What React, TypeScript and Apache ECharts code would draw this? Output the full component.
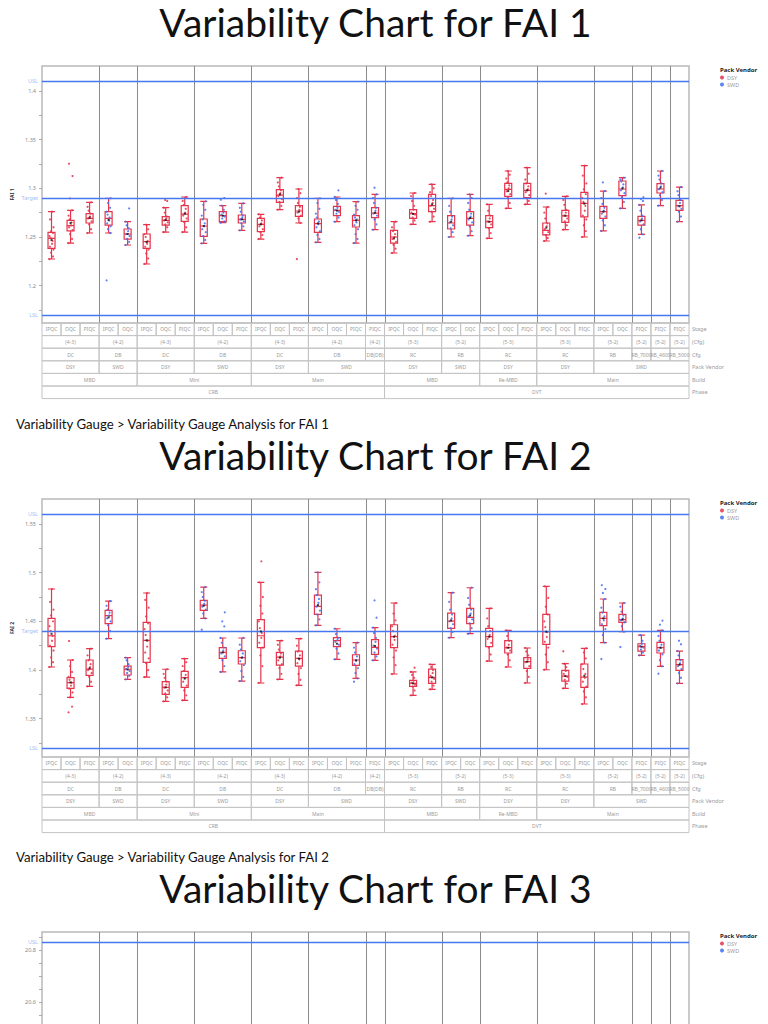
import React, { useEffect, useRef } from "react";
import * as echarts from "echarts";

// ---- category hierarchy (shared by every FAI chart) ----
const stageLabels = [
  "IPQC", "OQC", "PIQC", "IPQC", "OQC", "IPQC", "OQC", "PIQC", "IPQC", "OQC", "PIQC",
  "IPQC", "OQC", "PIQC", "IPQC", "OQC", "PIQC", "PIQC",
  "IPQC", "OQC", "PIQC", "IPQC", "OQC", "IPQC", "OQC", "PIQC", "IPQC", "OQC", "PIQC",
  "IPQC", "OQC", "PIQC", "PIQC", "PIQC",
];
const cfgCodeSpans: [string, number][] = [
  ["(4-3)", 3], ["(4-2)", 2], ["(4-3)", 3], ["(4-2)", 3], ["(4-3)", 3], ["(4-2)", 3], ["(4-2)", 1],
  ["(5-3)", 3], ["(5-2)", 2], ["(5-3)", 3], ["(5-3)", 3], ["(5-2)", 2], ["(5-2)", 1], ["(5-2)", 1], ["(5-2)", 1],
];
const cfgSpans: [string, number][] = [
  ["DC", 3], ["DB", 2], ["DC", 3], ["DB", 3], ["DC", 3], ["DB", 3], ["DB(DB)", 1],
  ["RC", 3], ["RB", 2], ["RC", 3], ["RC", 3], ["RB", 2], ["RB_7000", 1], ["RB_4600", 1], ["RB_5000", 1],
];
const vendorSpans: [string, number][] = [
  ["DSY", 3], ["SWD", 2], ["DSY", 3], ["SWD", 3], ["DSY", 3], ["SWD", 4],
  ["DSY", 3], ["SWD", 2], ["DSY", 3], ["DSY", 3], ["SWD", 5],
];
const buildSpans: [string, number][] = [
  ["MBD", 5], ["Mini", 6], ["Main", 7], ["MBD", 5], ["Re-MBD", 3], ["Main", 8],
];
const phaseSpans: [string, number][] = [["CRB", 18], ["DVT", 16]];
const rowNames = ["Stage", "(Cfg)", "Cfg", "Pack Vendor", "Build", "Phase"];
const vendorNames = ["DSY", "SWD"];
const limitNames = ["USL", "Target", "LSL"];

// ---- FAI 1 ----
const fai1Limits = [1.41, 1.29, 1.17];
const fai1Range = [1.1617, 1.4256];
const fai1MajorTicks = [1.2, 1.25, 1.3, 1.35, 1.4];
const fai1MinorTicks = [1.175, 1.225, 1.275, 1.325, 1.375];
// [low whisker, Q1, median, Q3, high whisker]
const fai1Box = [
  [1.2274, 1.2384, 1.2486, 1.2548, 1.276], [1.2438, 1.2562, 1.2616, 1.2671, 1.2774], [1.2541, 1.2644, 1.2692, 1.274, 1.2856],
  [1.2541, 1.2623, 1.2692, 1.276, 1.2897], [1.2418, 1.2479, 1.2531, 1.2582, 1.2657],
  [1.2223, 1.2384, 1.2452, 1.2531, 1.2627], [1.2551, 1.2623, 1.2671, 1.2709, 1.2801], [1.2551, 1.2661, 1.2736, 1.2822, 1.2911],
  [1.2435, 1.2507, 1.2613, 1.2685, 1.2866], [1.2647, 1.2657, 1.2719, 1.276, 1.2822], [1.2568, 1.2644, 1.2681, 1.2726, 1.2846],
  [1.2479, 1.2555, 1.263, 1.2692, 1.2733], [1.2781, 1.2856, 1.2931, 1.2986, 1.3109], [1.2644, 1.2712, 1.2767, 1.2822, 1.2993],
  [1.2445, 1.2548, 1.2637, 1.2685, 1.2897], [1.2657, 1.2719, 1.2774, 1.2815, 1.2911], [1.2438, 1.2603, 1.2671, 1.2719, 1.2863],
  [1.2575, 1.2699, 1.2746, 1.2801, 1.2938],
  [1.2336, 1.2438, 1.25, 1.2568, 1.2657], [1.263, 1.2692, 1.274, 1.2781, 1.2952], [1.2657, 1.276, 1.2822, 1.2938, 1.3041],
  [1.25, 1.2582, 1.2644, 1.2719, 1.2897], [1.2514, 1.2623, 1.2692, 1.276, 1.2938],
  [1.2486, 1.2596, 1.2657, 1.2719, 1.2835], [1.2794, 1.2918, 1.2989, 1.3051, 1.3178], [1.2835, 1.2904, 1.2979, 1.3051, 1.3212],
  [1.2459, 1.2521, 1.2568, 1.2644, 1.2808], [1.2575, 1.265, 1.2716, 1.2774, 1.2918], [1.25, 1.2706, 1.2846, 1.2959, 1.3232],
  [1.2562, 1.2692, 1.276, 1.2815, 1.2972], [1.2794, 1.2925, 1.2993, 1.3075, 1.3109],
  [1.2527, 1.2623, 1.2671, 1.2712, 1.2829], [1.2822, 1.2952, 1.2993, 1.3048, 1.3178], [1.2657, 1.2774, 1.2822, 1.2876, 1.3013],
];
const fai1Mean = [
  1.2469, 1.2643, 1.2699, 1.2675, 1.2531, 1.2449, 1.2675, 1.274, 1.2613, 1.2719, 1.2681,
  1.263, 1.2938, 1.276, 1.264, 1.2771, 1.2671, 1.2749,
  1.2486, 1.2736, 1.2835, 1.2657, 1.2695, 1.2657, 1.2972, 1.2979, 1.2596, 1.2719, 1.2843,
  1.276, 1.2999, 1.2671, 1.3006, 1.2815,
];
const fai1Points = [
  [1.2274, 1.23, 1.234, 1.237, 1.24, 1.243, 1.246, 1.249, 1.251, 1.254, 1.256, 1.26, 1.268, 1.276],
  [1.2438, 1.248, 1.253, 1.257, 1.26, 1.262, 1.265, 1.268, 1.272, 1.2774, 1.2897, 1.3126, 1.3253],
  [1.2541, 1.258, 1.263, 1.266, 1.269, 1.271, 1.274, 1.277, 1.281, 1.2856],
  [1.2055, 1.2541, 1.258, 1.261, 1.264, 1.267, 1.27, 1.273, 1.276, 1.28, 1.285, 1.2897],
  [1.2418, 1.245, 1.248, 1.251, 1.253, 1.256, 1.259, 1.262, 1.2657, 1.2794],
  [1.2223, 1.228, 1.233, 1.237, 1.24, 1.243, 1.246, 1.25, 1.253, 1.258, 1.2627],
  [1.2551, 1.26, 1.263, 1.265, 1.267, 1.269, 1.271, 1.275, 1.2801, 1.287, 1.288],
  [1.2551, 1.26, 1.265, 1.269, 1.272, 1.275, 1.279, 1.283, 1.287, 1.2911],
  [1.2435, 1.247, 1.251, 1.255, 1.258, 1.261, 1.264, 1.268, 1.272, 1.278, 1.283, 1.2866],
  [1.2647, 1.266, 1.269, 1.271, 1.273, 1.275, 1.278, 1.2822, 1.2883, 1.29],
  [1.2568, 1.261, 1.264, 1.266, 1.268, 1.27, 1.272, 1.276, 1.28, 1.2846],
  [1.2479, 1.252, 1.255, 1.258, 1.261, 1.264, 1.267, 1.27, 1.2733],
  [1.2781, 1.282, 1.286, 1.289, 1.292, 1.295, 1.298, 1.302, 1.306, 1.3109],
  [1.2274, 1.2644, 1.269, 1.272, 1.275, 1.278, 1.281, 1.285, 1.29, 1.295, 1.2993],
  [1.2445, 1.248, 1.252, 1.256, 1.26, 1.263, 1.266, 1.27, 1.274, 1.279, 1.285, 1.2897],
  [1.2657, 1.27, 1.274, 1.276, 1.278, 1.28, 1.284, 1.288, 1.2911, 1.2979],
  [1.2438, 1.248, 1.253, 1.258, 1.262, 1.265, 1.268, 1.27, 1.273, 1.278, 1.282, 1.2863],
  [1.2575, 1.263, 1.268, 1.272, 1.274, 1.277, 1.28, 1.285, 1.29, 1.2938, 1.3006],
  [1.2336, 1.238, 1.242, 1.245, 1.248, 1.25, 1.253, 1.256, 1.26, 1.2657],
  [1.263, 1.267, 1.27, 1.273, 1.275, 1.278, 1.282, 1.287, 1.292, 1.2952],
  [1.2657, 1.271, 1.276, 1.279, 1.282, 1.285, 1.288, 1.292, 1.296, 1.3, 1.3041],
  [1.25, 1.255, 1.259, 1.262, 1.265, 1.268, 1.271, 1.276, 1.282, 1.2897],
  [1.2514, 1.256, 1.261, 1.265, 1.268, 1.271, 1.274, 1.278, 1.285, 1.29, 1.2938],
  [1.2486, 1.254, 1.259, 1.263, 1.266, 1.269, 1.272, 1.277, 1.2835],
  [1.2794, 1.285, 1.29, 1.294, 1.297, 1.3, 1.303, 1.306, 1.31, 1.314, 1.3178],
  [1.2835, 1.287, 1.29, 1.293, 1.296, 1.299, 1.302, 1.305, 1.309, 1.315, 1.3212],
  [1.2459, 1.249, 1.252, 1.255, 1.258, 1.261, 1.264, 1.269, 1.275, 1.2808, 1.2945],
  [1.2575, 1.262, 1.266, 1.269, 1.272, 1.275, 1.278, 1.283, 1.288, 1.2918],
  [1.25, 1.256, 1.262, 1.268, 1.272, 1.277, 1.282, 1.286, 1.29, 1.294, 1.299, 1.305, 1.313, 1.3232],
  [1.2562, 1.262, 1.267, 1.271, 1.274, 1.277, 1.28, 1.284, 1.29, 1.2972, 1.3061],
  [1.2794, 1.286, 1.291, 1.295, 1.298, 1.301, 1.304, 1.307, 1.309, 1.3109],
  [1.2493, 1.2527, 1.258, 1.263, 1.266, 1.269, 1.272, 1.277, 1.2829, 1.287, 1.289, 1.291],
  [1.2822, 1.288, 1.293, 1.296, 1.299, 1.302, 1.305, 1.309, 1.313, 1.3178],
  [1.2657, 1.271, 1.276, 1.279, 1.282, 1.285, 1.288, 1.293, 1.297, 1.3013],
];

// ---- FAI 2 ----
const fai2Limits = [1.56, 1.44, 1.32];
const fai2Range = [1.3107, 1.5756];
const fai2MajorTicks = [1.35, 1.4, 1.45, 1.5, 1.55];
const fai2MinorTicks = [1.325, 1.375, 1.425, 1.475, 1.525];
const fai2Box = [
  [1.4031, 1.424, 1.4352, 1.453, 1.4832], [1.3719, 1.3812, 1.387, 1.3921, 1.4103], [1.3832, 1.3945, 1.401, 1.4103, 1.4219],
  [1.4322, 1.4476, 1.4558, 1.4613, 1.4708], [1.3904, 1.3949, 1.4008, 1.4041, 1.4127],
  [1.3928, 1.4079, 1.4305, 1.4489, 1.4791], [1.3678, 1.375, 1.3822, 1.388, 1.4008], [1.3689, 1.3822, 1.3921, 1.3986, 1.4117],
  [1.453, 1.4613, 1.4667, 1.4715, 1.4852], [1.398, 1.412, 1.4181, 1.4229, 1.4329], [1.3887, 1.4062, 1.4127, 1.4198, 1.4329],
  [1.3867, 1.4229, 1.4352, 1.4517, 1.49], [1.3904, 1.4051, 1.4133, 1.4181, 1.4301], [1.3843, 1.4041, 1.412, 1.4195, 1.4322],
  [1.4459, 1.4572, 1.4654, 1.477, 1.5003], [1.411, 1.424, 1.4301, 1.4332, 1.4424], [1.3914, 1.4048, 1.4103, 1.4157, 1.4281],
  [1.41, 1.4161, 1.4233, 1.4312, 1.4435],
  [1.3959, 1.4229, 1.4342, 1.4465, 1.4688], [1.374, 1.3832, 1.3863, 1.3894, 1.398], [1.3802, 1.3863, 1.3924, 1.401, 1.4058],
  [1.4332, 1.4428, 1.4503, 1.4585, 1.4794], [1.4373, 1.4476, 1.4541, 1.4633, 1.4845],
  [1.4092, 1.424, 1.4342, 1.4428, 1.4633], [1.4031, 1.4175, 1.4229, 1.4301, 1.4407], [1.3867, 1.4017, 1.4086, 1.4127, 1.4226],
  [1.4003, 1.4264, 1.4394, 1.4572, 1.4859], [1.3812, 1.3887, 1.3938, 1.3996, 1.4065], [1.3651, 1.3822, 1.3928, 1.4062, 1.4223],
  [1.4281, 1.4455, 1.453, 1.4592, 1.4729], [1.4394, 1.449, 1.4517, 1.4572, 1.4688],
  [1.4151, 1.4195, 1.424, 1.427, 1.4359], [1.4038, 1.4175, 1.4229, 1.4284, 1.4407], [1.3863, 1.3996, 1.4055, 1.4106, 1.4195],
];
const fai2Mean = [
  1.4372, 1.3873, 1.4017, 1.454, 1.4005, 1.4305, 1.3822, 1.3912, 1.466, 1.4181, 1.4127,
  1.4396, 1.4127, 1.4117, 1.4667, 1.427, 1.4098, 1.4247,
  1.4342, 1.3863, 1.3924, 1.451, 1.456, 1.4342, 1.4229, 1.4086, 1.4394, 1.3938, 1.3941,
  1.453, 1.4517, 1.424, 1.4229, 1.4055,
];
const fai2Points = [
  [1.4031, 1.408, 1.413, 1.42, 1.425, 1.43, 1.435, 1.44, 1.445, 1.45, 1.456, 1.462, 1.47, 1.4832],
  [1.3565, 1.3624, 1.3719, 1.377, 1.381, 1.384, 1.387, 1.39, 1.393, 1.398, 1.404, 1.4103, 1.4298],
  [1.3832, 1.388, 1.393, 1.397, 1.4, 1.403, 1.406, 1.41, 1.415, 1.4219],
  [1.4322, 1.44, 1.446, 1.45, 1.453, 1.456, 1.459, 1.462, 1.466, 1.4708],
  [1.3904, 1.394, 1.397, 1.399, 1.401, 1.403, 1.406, 1.41, 1.4127],
  [1.3928, 1.4, 1.407, 1.412, 1.418, 1.424, 1.43, 1.436, 1.442, 1.448, 1.455, 1.464, 1.472, 1.4791],
  [1.3678, 1.372, 1.376, 1.379, 1.382, 1.385, 1.388, 1.392, 1.396, 1.4008],
  [1.3689, 1.374, 1.379, 1.384, 1.388, 1.392, 1.395, 1.399, 1.404, 1.408, 1.4117],
  [1.4414, 1.453, 1.458, 1.462, 1.465, 1.468, 1.471, 1.475, 1.48, 1.4852],
  [1.398, 1.404, 1.41, 1.414, 1.417, 1.42, 1.423, 1.428, 1.4329, 1.4448, 1.45, 1.4592],
  [1.3887, 1.393, 1.399, 1.405, 1.409, 1.413, 1.417, 1.421, 1.426, 1.4329],
  [1.3867, 1.404, 1.415, 1.423, 1.428, 1.433, 1.438, 1.443, 1.45, 1.458, 1.466, 1.475, 1.49, 1.5116],
  [1.3904, 1.396, 1.402, 1.406, 1.41, 1.414, 1.417, 1.421, 1.426, 1.4301],
  [1.3843, 1.39, 1.396, 1.402, 1.407, 1.411, 1.415, 1.419, 1.425, 1.4322],
  [1.4459, 1.452, 1.457, 1.461, 1.465, 1.469, 1.473, 1.477, 1.483, 1.49, 1.5003],
  [1.411, 1.417, 1.422, 1.426, 1.429, 1.431, 1.433, 1.437, 1.4424],
  [1.388, 1.3914, 1.397, 1.402, 1.406, 1.41, 1.414, 1.418, 1.423, 1.4281],
  [1.41, 1.414, 1.418, 1.422, 1.425, 1.429, 1.433, 1.438, 1.4435, 1.4537, 1.4715],
  [1.3959, 1.405, 1.413, 1.42, 1.426, 1.431, 1.435, 1.44, 1.445, 1.451, 1.458, 1.4688],
  [1.374, 1.379, 1.383, 1.385, 1.387, 1.389, 1.392, 1.395, 1.398, 1.4024],
  [1.3802, 1.384, 1.388, 1.391, 1.394, 1.397, 1.4, 1.403, 1.4058],
  [1.4332, 1.439, 1.443, 1.447, 1.45, 1.453, 1.457, 1.462, 1.47, 1.4794],
  [1.4373, 1.443, 1.448, 1.452, 1.455, 1.458, 1.462, 1.467, 1.474, 1.4845],
  [1.4092, 1.416, 1.423, 1.428, 1.432, 1.436, 1.44, 1.445, 1.453, 1.4633],
  [1.4031, 1.41, 1.416, 1.42, 1.423, 1.426, 1.43, 1.435, 1.4407],
  [1.3867, 1.393, 1.399, 1.404, 1.408, 1.411, 1.415, 1.419, 1.4226],
  [1.4003, 1.408, 1.416, 1.423, 1.429, 1.434, 1.439, 1.444, 1.45, 1.457, 1.465, 1.474, 1.4859],
  [1.3812, 1.386, 1.39, 1.393, 1.396, 1.399, 1.403, 1.4065, 1.4192],
  [1.3651, 1.372, 1.378, 1.383, 1.388, 1.392, 1.396, 1.401, 1.406, 1.412, 1.418, 1.4223],
  [1.4113, 1.4281, 1.436, 1.442, 1.447, 1.451, 1.455, 1.459, 1.464, 1.4729, 1.4791, 1.4832, 1.4872],
  [1.4236, 1.4394, 1.445, 1.449, 1.451, 1.453, 1.456, 1.46, 1.465, 1.4688],
  [1.4151, 1.418, 1.421, 1.423, 1.425, 1.427, 1.43, 1.4359],
  [1.3962, 1.4038, 1.41, 1.416, 1.42, 1.423, 1.426, 1.43, 1.435, 1.4407, 1.4466, 1.4507],
  [1.3863, 1.392, 1.397, 1.401, 1.404, 1.407, 1.41, 1.415, 1.4195, 1.4264, 1.4301],
];

// ---- FAI 3 (only the top of this plot fits on the page) ----
const fai3Limits = [20.83];
const fai3Range = [20.5134, 20.869];
const fai3MajorTicks = [20.6, 20.8];
const fai3MinorTicks = [20.55, 20.65, 20.7, 20.75, 20.85];

// ---- styling / layout ----
const RED = "#e5344b";
const BLUE = "#3f6ff0";
const SPEC_BLUE = "#4677ee";
const FONT = "'Noto Sans', 'DejaVu Sans', sans-serif";
const TITLE_FONT = "Lato, 'Open Sans', sans-serif";
const GRID_LEFT = 42;
const GRID_WIDTH = 647;
const GRID_TOPS = [66, 499, 932];
const GRID_HEIGHTS = [257, 258, 93];
const ROW_H = 12.6;
const JITTER = [-2, 1.5, -0.5, 2, -1.5, 0.5, 1, -1];

type Cell = { label: string; start: number; end: number; row: number };

function spansToCells(spans: [string, number][], row: number): Cell[] {
  let s = 0;
  return spans.map(([label, n]) => {
    const c = { label, start: s, end: s + n - 1, row };
    s += n;
    return c;
  });
}

const tableCells: Cell[] = [
  ...stageLabels.map((label, i) => ({ label, start: i, end: i, row: 0 })),
  ...spansToCells(cfgCodeSpans, 1),
  ...spansToCells(cfgSpans, 2),
  ...spansToCells(vendorSpans, 3),
  ...spansToCells(buildSpans, 4),
  ...spansToCells(phaseSpans, 5),
];

const categoryKeys = stageLabels.map((s, i) => `${i + 1}:${s}`);
const vendorOfCategory: string[] = vendorSpans.flatMap(([v, n]) => Array(n).fill(v));
const groupBoundaries: number[] = (() => {
  const out: number[] = [];
  let s = 0;
  cfgCodeSpans.forEach(([, n], i) => {
    s += n;
    if (i < cfgCodeSpans.length - 1) out.push(s);
  });
  return out;
})();

function buildOption() {
  const charts = [
    { name: "FAI 1", axisName: "FAI 1", range: fai1Range, major: fai1MajorTicks, minor: fai1MinorTicks, limits: fai1Limits, box: fai1Box, mean: fai1Mean, points: fai1Points },
    { name: "FAI 2", axisName: "FAI 2", range: fai2Range, major: fai2MajorTicks, minor: fai2MinorTicks, limits: fai2Limits, box: fai2Box, mean: fai2Mean, points: fai2Points },
    { name: "FAI 3", axisName: "", range: fai3Range, major: fai3MajorTicks, minor: fai3MinorTicks, limits: fai3Limits, box: [] as number[][], mean: [] as number[], points: [] as number[][] },
  ];

  const grid = charts.map((_, k) => ({
    left: GRID_LEFT,
    top: GRID_TOPS[k],
    width: GRID_WIDTH,
    height: GRID_HEIGHTS[k],
    outerBoundsMode: "none",
    show: true,
    borderColor: "#b9b9b9",
    borderWidth: 1.5,
    backgroundColor: "transparent",
  }));

  const xAxis = charts.map((_, k) => ({
    gridIndex: k,
    type: "category",
    data: categoryKeys,
    boundaryGap: true,
    axisLine: { show: false },
    axisTick: { show: false },
    axisLabel: { show: false },
    splitLine: { show: false },
  }));

  const yAxis = charts.map((c, k) => ({
    gridIndex: k,
    type: "value",
    min: c.range[0],
    max: c.range[1],
    axisLine: { show: false },
    splitLine: { show: false },
    axisTick: {
      show: true,
      length: 3,
      lineStyle: { color: "#9a9a9a", width: 0.8 },
      customValues: [...c.major, ...c.minor],
    },
    axisLabel: {
      customValues: c.major,
      fontSize: 5.5,
      color: "#8a8a8a",
      margin: 6,
      fontFamily: FONT,
      formatter: (v: number) => String(+Number(v).toFixed(3)),
    },
    name: c.axisName,
    nameLocation: "middle",
    nameRotate: 90,
    nameGap: 19,
    nameTextStyle: { fontSize: 5, fontWeight: "bold", color: "#333", fontFamily: FONT },
  }));

  const series: any[] = [];
  charts.forEach((c, k) => {
    const yMin = c.range[0];
    const limitNamesHere = c.limits.length === 1 ? ["USL"] : limitNames;

    // group separators inside the plot area, carrying the spec-limit lines
    series.push({
      type: "custom",
      xAxisIndex: k,
      yAxisIndex: k,
      silent: true,
      z: 1,
      data: groupBoundaries.map((b) => [b, yMin]),
      encode: { x: 0, y: 1 },
      renderItem: (params: any, api: any) => {
        const cs = params.coordSys;
        const bw = api.size([1, 0])[0];
        const x = Math.round(api.coord([api.value(0), yMin])[0] - bw / 2) + 0.5;
        return {
          type: "line",
          shape: { x1: x, y1: cs.y, x2: x, y2: cs.y + cs.height },
          style: { stroke: "#8c8c8c", lineWidth: 1 },
        };
      },
      markLine: {
        silent: true,
        symbol: "none",
        animation: false,
        lineStyle: { color: SPEC_BLUE, width: 1.4, type: "solid" },
        label: {
          position: "start",
          formatter: "{b}",
          color: "#a3bcf5",
          fontSize: 5.5,
          fontFamily: FONT,
          distance: 4,
        },
        emphasis: { disabled: true },
        data: c.limits.map((v, i) => ({ name: limitNamesHere[i], yAxis: v })),
      },
    });

    if (k < 2) {
      // hierarchical category table under the plot
      series.push({
        type: "custom",
        xAxisIndex: k,
        yAxisIndex: k,
        silent: true,
        clip: false,
        z: 1,
        data: tableCells.map((cell) => [cell.start, yMin, cell.end, cell.row]),
        encode: { x: 0, y: 1 },
        renderItem: (params: any, api: any) => {
          const cell = tableCells[params.dataIndex];
          const cs = params.coordSys;
          const bw = api.size([1, 0])[0];
          const x0 = api.coord([cell.start, yMin])[0] - bw / 2;
          const x1 = api.coord([cell.end, yMin])[0] + bw / 2;
          const y0 = cs.y + cs.height + cell.row * ROW_H;
          return {
            type: "group",
            children: [
              {
                type: "rect",
                shape: { x: x0, y: y0, width: x1 - x0, height: ROW_H },
                style: { fill: "none", stroke: "#c4c4c4", lineWidth: 1 },
              },
              {
                type: "text",
                style: {
                  text: cell.label,
                  x: (x0 + x1) / 2,
                  y: y0 + ROW_H / 2,
                  align: "center",
                  verticalAlign: "middle",
                  fontSize: 5,
                  fontFamily: FONT,
                  fill: "#9a9a9a",
                },
              },
            ],
          };
        },
      });
    }

    if (c.box.length) {
      series.push({
        type: "boxplot",
        xAxisIndex: k,
        yAxisIndex: k,
        silent: true,
        z: 3,
        boxWidth: [7, 7],
        itemStyle: { color: "rgba(255,255,255,0)", borderColor: RED, borderWidth: 1.2 },
        emphasis: { disabled: true },
        data: c.box,
      });

      vendorNames.forEach((vendor) => {
        const data: any[] = [];
        c.points.forEach((pts, i) => {
          if (vendorOfCategory[i] !== vendor) return;
          pts.forEach((v, j) => {
            data.push({ value: [i, v], symbolOffset: [JITTER[j % JITTER.length], 0] });
          });
        });
        series.push({
          type: "scatter",
          name: vendor,
          xAxisIndex: k,
          yAxisIndex: k,
          silent: true,
          z: 4,
          symbol: "circle",
          symbolSize: 2.2,
          itemStyle: { color: vendor === "DSY" ? RED : BLUE, opacity: 0.85 },
          emphasis: { disabled: true },
          data,
        });
      });

      series.push({
        type: "scatter",
        name: "Mean",
        xAxisIndex: k,
        yAxisIndex: k,
        silent: true,
        z: 5,
        symbol: "rect",
        symbolSize: 2,
        itemStyle: { color: "#111" },
        emphasis: { disabled: true },
        data: c.mean.map((m, i) => [i, m]),
      });
    } else {
      vendorNames.forEach((vendor) => {
        series.push({
          type: "scatter",
          name: vendor,
          xAxisIndex: k,
          yAxisIndex: k,
          itemStyle: { color: vendor === "DSY" ? RED : BLUE },
          data: [],
        });
      });
    }
  });

  const legend = charts.map((_, k) => ({
    data: vendorNames,
    orient: "vertical",
    left: 720,
    top: GRID_TOPS[k] + 8.5,
    padding: 0,
    itemWidth: 4,
    itemHeight: 4,
    itemGap: 1,
    icon: "circle",
    selectedMode: false,
    textStyle: { fontSize: 5.5, color: "#9a9a9a", fontFamily: FONT, lineHeight: 6, padding: [0, 0, 0, -2] },
  }));

  const graphic: any[] = [];
  charts.forEach((c, k) => {
    const top = GRID_TOPS[k];
    graphic.push({
      type: "text",
      x: 375.5,
      y: top - 44.5,
      style: {
        text: `Variability Chart for ${c.name}`,
        fontSize: 39,
        lineHeight: 39,
        fontFamily: TITLE_FONT,
        fill: "#111",
        align: "center",
        verticalAlign: "middle",
      },
    });
    graphic.push({
      type: "text",
      x: 720,
      y: top + 4,
      style: {
        text: "Pack Vendor",
        fontSize: 6,
        fontWeight: "bold",
        fontFamily: FONT,
        fill: "#222",
        align: "left",
        verticalAlign: "middle",
      },
    });
    if (k < 2) {
      const bottom = top + GRID_HEIGHTS[k];
      rowNames.forEach((r, i) => {
        graphic.push({
          type: "text",
          x: GRID_LEFT + GRID_WIDTH + 3,
          y: bottom + (i + 0.5) * ROW_H,
          style: {
            text: r,
            fontSize: 5.5,
            fontFamily: FONT,
            fill: "#9a9a9a",
            align: "left",
            verticalAlign: "middle",
          },
        });
      });
      graphic.push({
        type: "text",
        x: 16,
        y: top + 358,
        style: {
          text: `Variability Gauge > Variability Gauge Analysis for ${c.name}`,
          fontSize: 13.2,
          fontFamily: TITLE_FONT,
          fill: "#111",
          align: "left",
          verticalAlign: "middle",
        },
      });
    }
  });

  return {
    animation: false,
    backgroundColor: "#ffffff",
    textStyle: { fontFamily: FONT },
    grid,
    xAxis,
    yAxis,
    legend,
    graphic,
    series,
  };
}

export default function App() {
  const ref = useRef<HTMLDivElement | null>(null);

  useEffect(() => {
    if (!ref.current) return;
    const chart = echarts.init(ref.current, null, { renderer: "svg" });
    chart.setOption(buildOption() as any);
    return () => chart.dispose();
  }, []);

  return (
    <div
      ref={ref}
      style={{ position: "absolute", left: 0, top: 0, width: 768, height: 1024, background: "#fff" }}
    />
  );
}
